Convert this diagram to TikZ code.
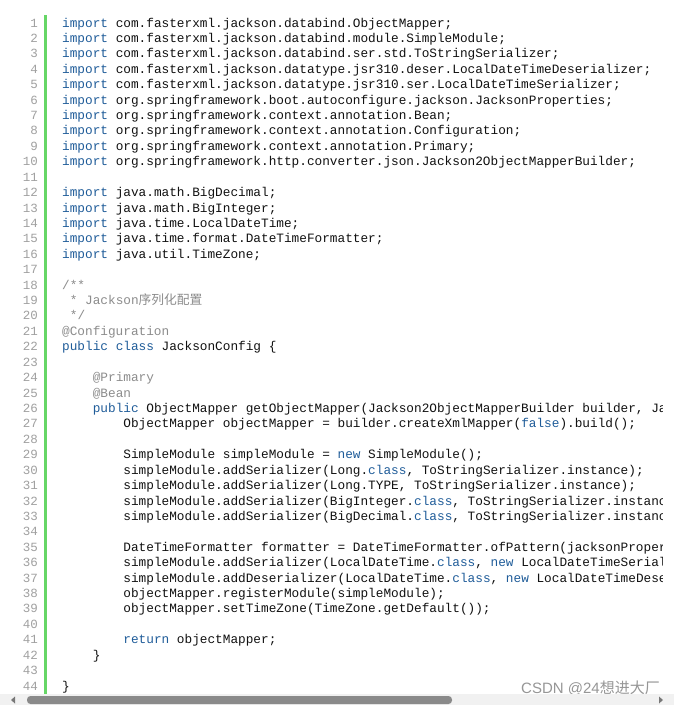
\documentclass[tikz,border=0pt]{standalone}
\usepackage{fontspec}
\newfontfamily\cm{Liberation Mono}
\newfontfamily\cjk{Noto Sans CJK SC}
\newfontfamily\wm{Liberation Sans}
\definecolor{kwc}{HTML}{1F5C99}
\definecolor{cmc}{HTML}{8C8C8C}
\definecolor{txc}{HTML}{111111}
\definecolor{lnc}{HTML}{A0A0A0}
\definecolor{barc}{HTML}{66D666}
\definecolor{wmc}{HTML}{969696}
\definecolor{trackc}{HTML}{F1F1F1}
\definecolor{thumbc}{HTML}{8A8A8A}
\definecolor{arrc}{HTML}{787878}
\newcommand\kw[1]{\textcolor{kwc}{#1}}
\newcommand\cmt[1]{\textcolor{cmc}{#1}}
\tikzset{code/.style={anchor=base west,inner sep=0pt,font=\cm\fontsize{12.75}{15}\selectfont,text=txc},
lnum/.style={anchor=base east,inner sep=0pt,font=\cm\fontsize{12.5}{15}\selectfont,text=lnc}}
\begin{document}
\begin{tikzpicture}[x=1pt,y=-1pt]
\useasboundingbox (0,0) rectangle (674,705);
\fill[white] (0,0) rectangle (674,705);
\fill[barc] (44,15) rectangle (47,694);
\foreach \n in {1,...,44}{
  \node[lnum] (n\n) at (38,{27+(\n-1)*15.42}) {\n};
}
\def\L#1#2{\node[code] (l#1) at (62,{27+(#1-1)*15.42}) {#2};}
\begin{scope}
\clip (50,0) rectangle (662,694);
\L{1}{\kw{import} com.fasterxml.jackson.databind.ObjectMapper;}
\L{2}{\kw{import} com.fasterxml.jackson.databind.module.SimpleModule;}
\L{3}{\kw{import} com.fasterxml.jackson.databind.ser.std.ToStringSerializer;}
\L{4}{\kw{import} com.fasterxml.jackson.datatype.jsr310.deser.LocalDateTimeDeserializer;}
\L{5}{\kw{import} com.fasterxml.jackson.datatype.jsr310.ser.LocalDateTimeSerializer;}
\L{6}{\kw{import} org.springframework.boot.autoconfigure.jackson.JacksonProperties;}
\L{7}{\kw{import} org.springframework.context.annotation.Bean;}
\L{8}{\kw{import} org.springframework.context.annotation.Configuration;}
\L{9}{\kw{import} org.springframework.context.annotation.Primary;}
\L{10}{\kw{import} org.springframework.http.converter.json.Jackson2ObjectMapperBuilder;}
\L{12}{\kw{import} java.math.BigDecimal;}
\L{13}{\kw{import} java.math.BigInteger;}
\L{14}{\kw{import} java.time.LocalDateTime;}
\L{15}{\kw{import} java.time.format.DateTimeFormatter;}
\L{16}{\kw{import} java.util.TimeZone;}
\L{18}{\cmt{/**}}
\L{19}{\cmt{\ * Jackson{\cjk 序列化配置}}}
\L{20}{\cmt{\ */}}
\L{21}{\cmt{@Configuration}}
\L{22}{\kw{public} \kw{class} JacksonConfig \{}
\L{24}{\cmt{\ \ \ \ @Primary}}
\L{25}{\cmt{\ \ \ \ @Bean}}
\L{26}{\ \ \ \ \kw{public} ObjectMapper getObjectMapper(Jackson2ObjectMapperBuilder builder, JacksonProperties jacksonProperties) \{}
\L{27}{\ \ \ \ \ \ \ \ ObjectMapper objectMapper = builder.createXmlMapper(\kw{false}).build();}
\L{29}{\ \ \ \ \ \ \ \ SimpleModule simpleModule = \kw{new} SimpleModule();}
\L{30}{\ \ \ \ \ \ \ \ simpleModule.addSerializer(Long.\kw{class}, ToStringSerializer.instance);}
\L{31}{\ \ \ \ \ \ \ \ simpleModule.addSerializer(Long.TYPE, ToStringSerializer.instance);}
\L{32}{\ \ \ \ \ \ \ \ simpleModule.addSerializer(BigInteger.\kw{class}, ToStringSerializer.instance);}
\L{33}{\ \ \ \ \ \ \ \ simpleModule.addSerializer(BigDecimal.\kw{class}, ToStringSerializer.instance);}
\L{35}{\ \ \ \ \ \ \ \ DateTimeFormatter formatter = DateTimeFormatter.ofPattern(jacksonProperties.getDateFormat());}
\L{36}{\ \ \ \ \ \ \ \ simpleModule.addSerializer(LocalDateTime.\kw{class}, \kw{new} LocalDateTimeSerializer(formatter));}
\L{37}{\ \ \ \ \ \ \ \ simpleModule.addDeserializer(LocalDateTime.\kw{class}, \kw{new} LocalDateTimeDeserializer(formatter));}
\L{38}{\ \ \ \ \ \ \ \ objectMapper.registerModule(simpleModule);}
\L{39}{\ \ \ \ \ \ \ \ objectMapper.setTimeZone(TimeZone.getDefault());}
\L{41}{\ \ \ \ \ \ \ \ \kw{return} objectMapper;}
\L{42}{\ \ \ \ \}}
\L{44}{\}}
\end{scope}
\node[anchor=base east,inner sep=0pt,font=\wm\fontsize{15}{18}\selectfont,text=wmc] (wm) at (660,693) {CSDN @24{\cjk 想进大厂}};
\fill[trackc] (0,694) rectangle (674,705);
\fill[thumbc,rounded corners=3.5pt] (27,696) rectangle (452,704);
\fill[arrc] (11,700) -- (15,696.5) -- (15,703.5) -- cycle;
\fill[arrc] (663,700) -- (659,696.5) -- (659,703.5) -- cycle;
\end{tikzpicture}
\end{document}
